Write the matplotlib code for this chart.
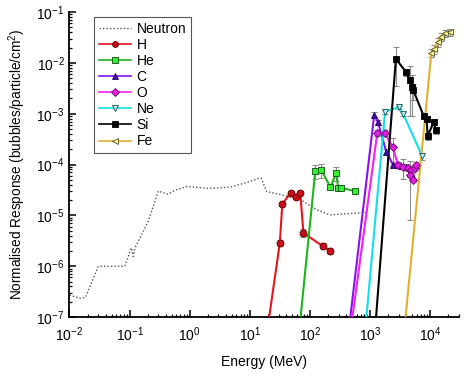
import matplotlib
matplotlib.use('Agg')
import matplotlib.pyplot as plt
from matplotlib.lines import Line2D
from matplotlib.ticker import LogLocator, NullFormatter

plt.rcParams['font.family'] = ['Liberation Sans', 'DejaVu Sans']
plt.rcParams['mathtext.fontset'] = 'custom'
plt.rcParams['mathtext.rm'] = 'Liberation Sans'
plt.rcParams['mathtext.it'] = 'Liberation Sans:italic'
plt.rcParams['mathtext.default'] = 'regular'

# ---------------- data ----------------
neutron_energy = [0.010, 0.0158, 0.0186, 0.030, 0.036, 0.083, 0.107, 0.115, 0.123,
                  0.204, 0.30, 0.44, 0.56, 0.89, 2.1, 4.7, 8.7, 14.5, 15.5, 19,
                  35.5, 72, 129, 214, 676, 890]
neutron_resp = [2.7e-7, 2.3e-7, 2.5e-7, 9.8e-7, 1.0e-6, 1.0e-6, 2.3e-6, 1.55e-6, 2.3e-6,
                7.6e-6, 3.0e-5, 2.6e-5, 3.1e-5, 3.7e-5, 3.4e-5, 3.6e-5, 4.4e-5, 5.4e-5,
                5.4e-5, 2.95e-5, 2.5e-5, 2.0e-5, 1.3e-5, 1.02e-5, 1.12e-5, 1.15e-5]

h_threshold = 21
h_energy = [31.6, 34.7, 47.9, 58.9, 69, 78, 162, 219]
h_resp = [2.9e-6, 1.66e-5, 2.8e-5, 2.35e-5, 2.8e-5, 4.5e-6, 2.5e-6, 2.0e-6]
h_err = [0.4e-6, 1.2e-6, 2.0e-6, 2.0e-6, 2.0e-6, 0.8e-6, 0.3e-6, 0.3e-6]

he_threshold = 70
he_energy = [123, 155, 219, 275, 295, 324, 562]
he_resp = [7.6e-5, 7.8e-5, 3.6e-5, 6.9e-5, 3.5e-5, 3.5e-5, 3.0e-5]
he_err = [2.3e-5, 2.3e-5, 0.3e-5, 2.2e-5, 0.3e-5, 0.3e-5, 0.3e-5]

c_threshold = 470
c_energy = [1175, 1350, 1860, 2400, 2900, 3300, 4000, 4600, 5100]
c_resp = [9.6e-4, 6.8e-4, 1.8e-4, 1.0e-4, 1.0e-4, 9.3e-5, 9.1e-5, 6.8e-5, 5.8e-5]
c_err = [1.0e-4, 0.7e-4, 0.2e-4, 0.1e-4, 0.1e-4, 0.1e-4, 0.1e-4, 0.1e-4, 0.1e-4]

o_threshold = 510
o_energy = [1320, 1740, 2400, 2900, 3470, 4270, 4790, 5500, 5900, 4600, 5250]
o_resp = [4.2e-4, 4.2e-4, 2.2e-4, 1.0e-4, 9.1e-5, 8.5e-5, 7.8e-5, 8.5e-5, 1.0e-4, 6.3e-5, 5.0e-5]
o_err = [0.5e-4, 0.5e-4, 1.2e-4, 0.1e-4, 0.4e-4, 0.1e-4, 0.1e-4, 0.1e-4, 0.1e-4, 5.5e-5, 0.5e-5]

ne_threshold = 870
ne_energy = [1780, 3090, 3550, 7400]
ne_resp = [1.1e-3, 1.35e-3, 1.0e-3, 1.45e-4]
ne_err = [0.1e-3, 0.1e-3, 0.1e-3, 0.2e-4]

si_threshold = 1260
si_energy = [2690, 3980, 4570, 5000, 5250, 7760, 8700, 9100, 11500, 12300]
si_resp = [1.2e-2, 6.6e-3, 4.7e-3, 3.4e-3, 2.9e-3, 9.2e-4, 8.0e-4, 3.6e-4, 7.0e-4, 4.8e-4]
si_err = [8.5e-3, 1.0e-3, 3.8e-3, 2.5e-3, 1.0e-3, 1.0e-4, 1.0e-4, 0.6e-4, 1.0e-4, 0.8e-4]

fe_threshold = 3900
fe_energy = [10500, 11700, 13500, 15100, 17800, 21400]
fe_resp = [1.6e-2, 1.9e-2, 2.6e-2, 3.3e-2, 3.8e-2, 4.0e-2]
fe_err = [3.0e-3, 4.0e-3, 5.0e-3, 6.0e-3, 6.0e-3, 6.0e-3]

series = [
    ('H', h_threshold, h_energy, h_resp, h_err, '#E8141C', 'o', '#C8101A', '#5A0000'),
    ('He', he_threshold, he_energy, he_resp, he_err, '#1EB41E', 's', '#33F033', '#0A4A0A'),
    ('C', c_threshold, c_energy, c_resp, c_err, '#8A10F0', '^', '#4010A8', '#200060'),
    ('O', o_threshold, o_energy, o_resp, o_err, '#F020F0', 'D', '#E020E0', '#700070'),
    ('Ne', ne_threshold, ne_energy, ne_resp, ne_err, '#10E0E8', 'v', '#A8ECEC', '#205050'),
    ('Si', si_threshold, si_energy, si_resp, si_err, '#000000', 's', '#000000', '#000000'),
    ('Fe', fe_threshold, fe_energy, fe_resp, fe_err, '#E0B030', '<', '#FAFA90', '#505020'),
]

# ---------------- plot ----------------
fig = plt.figure(figsize=(4.74, 3.89), dpi=100)
ax = fig.add_axes([0.1466, 0.185, 0.8214, 0.784])

ax.plot(neutron_energy, neutron_resp, linestyle=(0, (1, 1.5)), color='#555555',
        lw=1.0, zorder=1)

handles = [Line2D([], [], linestyle=(0, (1, 1.5)), color='#555555', lw=1.0)]
labels = ['Neutron']
for name, thr, en, resp, err, lc, mk, mfc, mec in series:
    ms = 5.0 if mk in ('o', 's') else 4.8
    if mk == 'D':
        ms = 4.2
    ax.errorbar(en, resp, yerr=err, fmt='none', ecolor='#8C8C8C',
                elinewidth=0.8, capsize=2.2, capthick=0.8, zorder=2)
    ax.plot([thr] + en, [1e-7] + resp, color=lc, lw=1.5, zorder=3)
    ax.plot(en, resp, linestyle='none', marker=mk, ms=ms, mfc=mfc, mec=mec,
            mew=0.6, zorder=4)
    handles.append(Line2D([], [], color=lc, lw=1.2, marker=mk, ms=4.2,
                          mfc=mfc, mec=mec, mew=0.6))
    labels.append(name)

ax.set_xscale('log')
ax.set_yscale('log')
ax.set_xlim(1e-2, 3e4)
ax.set_ylim(1e-7, 1e-1)

ax.xaxis.set_major_locator(LogLocator(base=10, numticks=20))
ax.xaxis.set_minor_locator(LogLocator(base=10, subs=range(2, 10), numticks=20))
ax.yaxis.set_major_locator(LogLocator(base=10, numticks=20))
ax.yaxis.set_minor_locator(LogLocator(base=10, subs=range(2, 10), numticks=20))
ax.xaxis.set_minor_formatter(NullFormatter())
ax.yaxis.set_minor_formatter(NullFormatter())

for s in ('top', 'right'):
    ax.spines[s].set_visible(False)
for s in ('left', 'bottom'):
    ax.spines[s].set_linewidth(1.3)
ax.tick_params(which='major', direction='in', length=5, width=1.1, labelsize=10)
ax.tick_params(axis='x', which='major', pad=6)
ax.tick_params(which='minor', direction='in', length=2.5, width=0.9)

ax.set_xlabel('Energy (MeV)', fontsize=10, labelpad=8)
ax.set_ylabel('Normalised Response (bubbles/particle/cm$^2$)', fontsize=9.8, labelpad=6)

leg = ax.legend(handles, labels, loc='upper left', bbox_to_anchor=(0.063, 0.984),
                borderaxespad=0, fancybox=False, edgecolor='#555555', fontsize=10,
                handlelength=2.3, labelspacing=0.15, borderpad=0.35, handletextpad=0.4,
                framealpha=1)
leg.get_frame().set_linewidth(0.8)

fig.savefig('out.png', dpi=100)
